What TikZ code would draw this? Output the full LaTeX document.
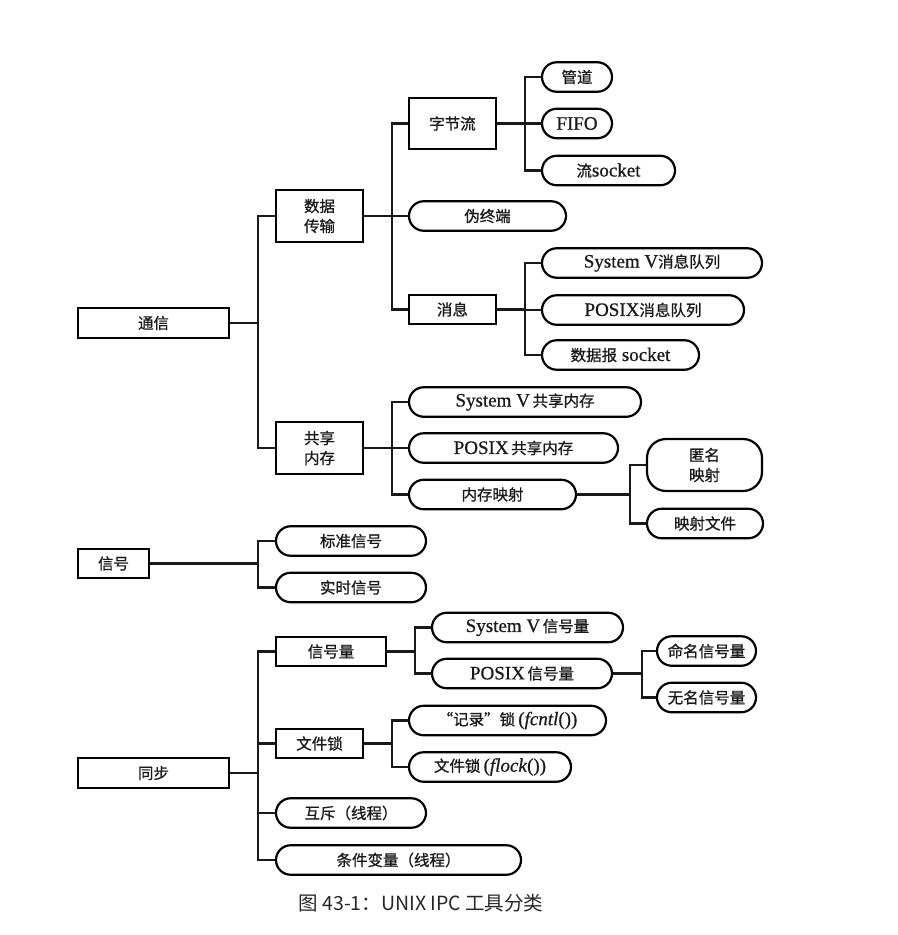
\documentclass[tikz,border=0pt]{standalone}
\usepackage{fontspec}
\setmainfont{Liberation Serif}
\newfontfamily\zh{Noto Sans CJK SC}[FakeBold=0.8]
\newfontfamily\capfont{Noto Sans CJK SC}
\newfontfamily\lat{Liberation Serif}[FakeBold=0.7]
\newcommand\la[1]{{\lat\fontsize{19bp}{20bp}\selectfont #1}}
\usetikzlibrary{shapes.misc}
\begin{document}
\begin{tikzpicture}[x=1bp,y=-1bp,
  every node/.style={font=\zh\fontsize{15.5bp}{20bp}\selectfont, text=black!90, inner sep=0pt, line width=2.2bp, align=center},
  sq/.style={draw, rectangle, minimum height=29bp},
  rr/.style={draw, rounded rectangle, minimum height=29.5bp},
  edge/.style={line width=2.2bp, black!90, line join=miter}]
\useasboundingbox (0,0) rectangle (898,935);
% buses
\coordinate (b1) at (258,0);
\coordinate (b2) at (392,0);
\coordinate (b3) at (525,0);
\coordinate (b4) at (630,0);
\coordinate (b5) at (415,0);
\coordinate (b6) at (642,0);
% rectangles
\node[sq, minimum width=151bp, minimum height=30bp] (tx) at (153.5,323) {通信};
\node[sq, minimum width=87bp, minimum height=52bp] (sj) at (319.5,216) {数据\\传输};
\node[sq, minimum width=87bp, minimum height=51bp] (zjl) at (452.5,123.5) {字节流};
\node[sq, minimum width=87bp] (xx) at (452.5,309.5) {消息};
\node[sq, minimum width=87bp, minimum height=52bp] (gx) at (319.5,448) {共享\\内存};
\node[sq, minimum width=71bp] (xh) at (113.5,563.5) {信号};
\node[sq, minimum width=110bp] (xhl) at (331,651.5) {信号量};
\node[sq, minimum width=87bp] (wjs) at (319.5,743.5) {文件锁};
\node[sq, minimum width=151bp, minimum height=30bp] (tb) at (153.5,773) {同步};
% rounded
\node[rr, minimum width=70bp] (gd) at (577,77) {管道};
\node[rr, minimum width=70bp] (fifo) at (577,123.5) {\la{FIFO}};
\node[rr, minimum width=133bp] (lsock) at (608.5,170.5) {流\la{socket}};
\node[rr, minimum width=157bp] (wzd) at (487.5,216) {伪终端};
\node[rr, minimum width=220bp] (svmq) at (652,263) {\la{System V}消息队列};
\node[rr, minimum width=202bp] (pmq) at (643,310) {\la{POSIX}消息队列};
\node[rr, minimum width=157bp] (dgs) at (620.5,355) {数据报\la{ socket}};
\node[rr, minimum width=232bp] (svshm) at (525,402) {\la{System V}\,共享内存};
\node[rr, minimum width=209bp] (pshm) at (513.5,448) {\la{POSIX}\,共享内存};
\node[rr, minimum width=167bp] (ncys) at (492.5,494.5) {内存映射};
\node[draw, rectangle, rounded corners=19bp, minimum width=115bp, minimum height=52bp] (nmys) at (704.5,465) {匿名\\映射};
\node[rr, minimum width=116bp] (yswj) at (705,523.5) {映射文件};
\node[rr, minimum width=150bp] (bzxh) at (351,541) {标准信号};
\node[rr, minimum width=150bp] (ssxh) at (351,587.5) {实时信号};
\node[rr, minimum width=191bp] (svsem) at (527.5,627.5) {\la{System V}\,信号量};
\node[rr, minimum width=180bp] (psem) at (522,673.5) {\la{POSIX}\,信号量};
\node[rr, minimum width=99bp] (mmsem) at (706.5,651) {命名信号量};
\node[rr, minimum width=99bp] (wmsem) at (706.5,697.5) {无名信号量};
\node[rr, minimum width=197bp] (jls) at (507.5,720.5) {“记录”锁\la{\,(\textit{fcntl}())}};
\node[rr, minimum width=162bp] (flk) at (490,767) {文件锁\la{\,(\textit{flock}())}};
\node[rr, minimum width=150bp] (hc) at (351,813) {互斥（线程）};
\node[rr, minimum width=245bp] (tjbl) at (398.5,860) {条件变量（线程）};
% caption
\node[font=\capfont\fontsize{19.5bp}{22bp}\selectfont, text=black!85] (cap) at (421,903) {图 43-1：UNIX IPC 工具分类};
% connectors
\newcommand\br[3]{\foreach \ch in {#3} {\draw[edge] (#1.east) -- (#1.east -| #2) |- (\ch.west);}}
\br{tx}{b1}{sj,gx}
\br{sj}{b2}{zjl,wzd,xx}
\br{zjl}{b3}{gd,fifo,lsock}
\br{xx}{b3}{svmq,pmq,dgs}
\br{gx}{b2}{svshm,pshm,ncys}
\br{ncys}{b4}{nmys,yswj}
\br{xh}{b1}{bzxh,ssxh}
\br{tb}{b1}{xhl,wjs,hc,tjbl}
\br{xhl}{b5}{svsem,psem}
\br{psem}{b6}{mmsem,wmsem}
\br{wjs}{b2}{jls,flk}
\end{tikzpicture}
\end{document}
